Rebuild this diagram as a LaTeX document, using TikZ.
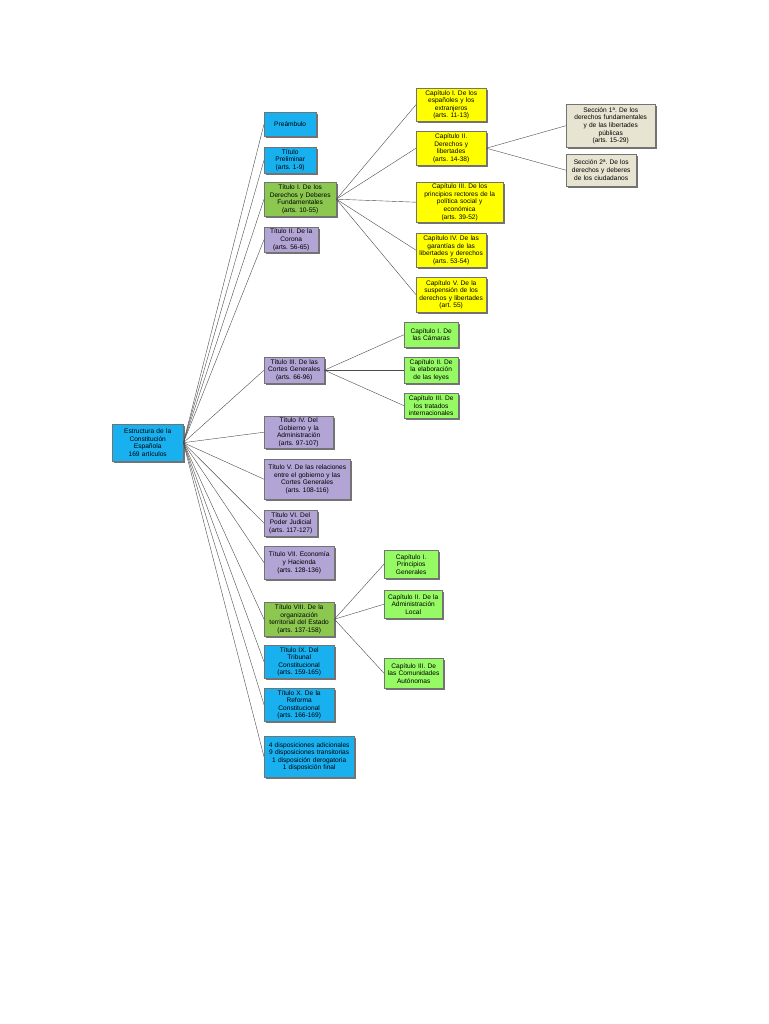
\documentclass[tikz,border=0pt]{standalone}
\usepackage{fontspec}
\setmainfont{Liberation Sans}
\frenchspacing
\usetikzlibrary{shadows}
\definecolor{cy}{RGB}{25,176,240}
\definecolor{pu}{RGB}{178,164,212}
\definecolor{gr}{RGB}{140,200,80}
\definecolor{lg}{RGB}{150,250,100}
\definecolor{ye}{RGB}{255,255,0}
\definecolor{be}{RGB}{232,228,210}
\tikzset{
 bx/.style={draw=black!55,line width=0.4pt,inner sep=0.3pt,align=center,anchor=north west,
   font=\fontsize{6.6}{7.6}\selectfont\frenchspacing,drop shadow={shadow xshift=1.5pt,shadow yshift=-1.5pt,fill=black!55,opacity=1}},
 ln/.style={draw=black!70,line width=0.4pt}
}
\newcommand{\bxn}[7]{\pgfmathsetmacro{\ww}{#4-#2}\pgfmathsetmacro{\hh}{#5-#3}\pgfmathsetmacro{\tw}{\ww-1}
 \node[bx,fill=#6,minimum width=\ww pt,minimum height=\hh pt,text width=\tw pt] (#1) at (#2pt,-#3pt) {#7};}
\begin{document}
\begin{tikzpicture}
\useasboundingbox[fill=white] (0,0) rectangle (768pt,-1024pt);
\bxn{root}{112}{424}{183}{461}{cy}{Estructura de la\\Constitución\\Española\\169 artículos}
\bxn{pre}{264}{112}{316}{136}{cy}{Preámbulo}
\bxn{tp}{264}{147}{316}{173}{cy}{Título\\Preliminar\\(arts. 1-9)}
\bxn{t1}{264}{182}{336}{216}{gr}{Título I. De los\\Derechos y Deberes\\Fundamentales\\(arts. 10-55)}
\bxn{t2}{264}{227}{318}{252}{pu}{Título II. De la\\Corona\\(arts. 56-65)}
\bxn{t3}{264}{357}{324}{383}{pu}{Título III. De las\\Cortes Generales\\(arts. 66-96)}
\bxn{t4}{264}{416}{333}{448}{pu}{Título IV. Del\\Gobierno y la\\Administración\\(arts. 97-107)}
\bxn{t5}{264}{459}{350}{499}{pu}{Título V. De las relaciones\\entre el gobierno y las\\Cortes Generales\\(arts. 108-116)}
\bxn{t6}{264}{510}{317}{536}{pu}{Título VI. Del\\Poder Judicial\\(arts. 117-127)}
\bxn{t7}{264}{546}{334}{579}{pu}{Título VII. Economía\\y Hacienda\\(arts. 128-136)}
\bxn{t8}{264}{602}{334}{636}{gr}{Título VIII. De la\\organización\\territorial del Estado\\(arts. 137-158)}
\bxn{t9}{264}{645}{334}{678}{cy}{Título IX. Del\\Tribunal\\Constitucional\\(arts. 159-165)}
\bxn{t10}{264}{688}{334}{721}{cy}{Título X. De la\\Reforma\\Constitucional\\(arts. 166-169)}
\bxn{dis}{264}{736}{354}{777}{cy}{4 disposiciones adicionales\\9 disposiciones transitorias\\1 disposición derogatoria\\1 disposición final}
\bxn{c1}{416}{88}{486}{121}{ye}{Capítulo I. De los\\españoles y los\\extranjeros\\(arts. 11-13)}
\bxn{c2}{416}{131}{486}{165}{ye}{Capítulo II.\\Derechos y\\libertades\\(arts. 14-38)}
\bxn{c3}{416}{182}{503}{222}{ye}{Capítulo III. De los\\principios rectores de la\\política social y\\económica\\(arts. 39-52)}
\bxn{c4}{416}{233}{486}{267}{ye}{Capítulo IV. De las\\garantías de las\\libertades y derechos\\(arts. 53-54)}
\bxn{c5}{416}{277}{486}{312}{ye}{Capítulo V. De la\\suspensión de los\\derechos y libertades\\(art. 55)}
\bxn{s1}{566}{104}{655}{147}{be}{Sección 1ª. De los\\derechos fundamentales\\y de las libertades\\públicas\\(arts. 15-29)}
\bxn{s2}{566}{154}{636}{186}{be}{Sección 2ª. De los\\derechos y deberes\\de los ciudadanos}
\bxn{k1}{404}{322}{458}{347}{lg}{Capítulo I. De\\las Cámaras}
\bxn{k2}{404}{357}{458}{383}{lg}{Capítulo II. De\\la elaboración\\de las leyes}
\bxn{k3}{404}{393}{458}{418}{lg}{Capítulo III. De\\los tratados\\internacionales}
\bxn{m1}{384}{550}{438}{578}{lg}{Capítulo I.\\Principios\\Generales}
\bxn{m2}{384}{590}{442}{618}{lg}{Capítulo II. De la\\Administración\\Local}
\bxn{m3}{384}{658}{443}{688}{lg}{Capítulo III. De\\las Comunidades\\Autónomas}
\foreach \n in {pre,tp,t1,t2,t3,t4,t5,t6,t7,t8,t9,t10,dis} \draw[ln] (root.east) -- (\n.west);
\foreach \n in {c1,c2,c3,c4,c5} \draw[ln] (t1.east) -- (\n.west);
\foreach \n in {s1,s2} \draw[ln] (c2.east) -- (\n.west);
\foreach \n in {k1,k2,k3} \draw[ln] (t3.east) -- (\n.west);
\foreach \n in {m1,m2,m3} \draw[ln] (t8.east) -- (\n.west);
\end{tikzpicture}
\end{document}
